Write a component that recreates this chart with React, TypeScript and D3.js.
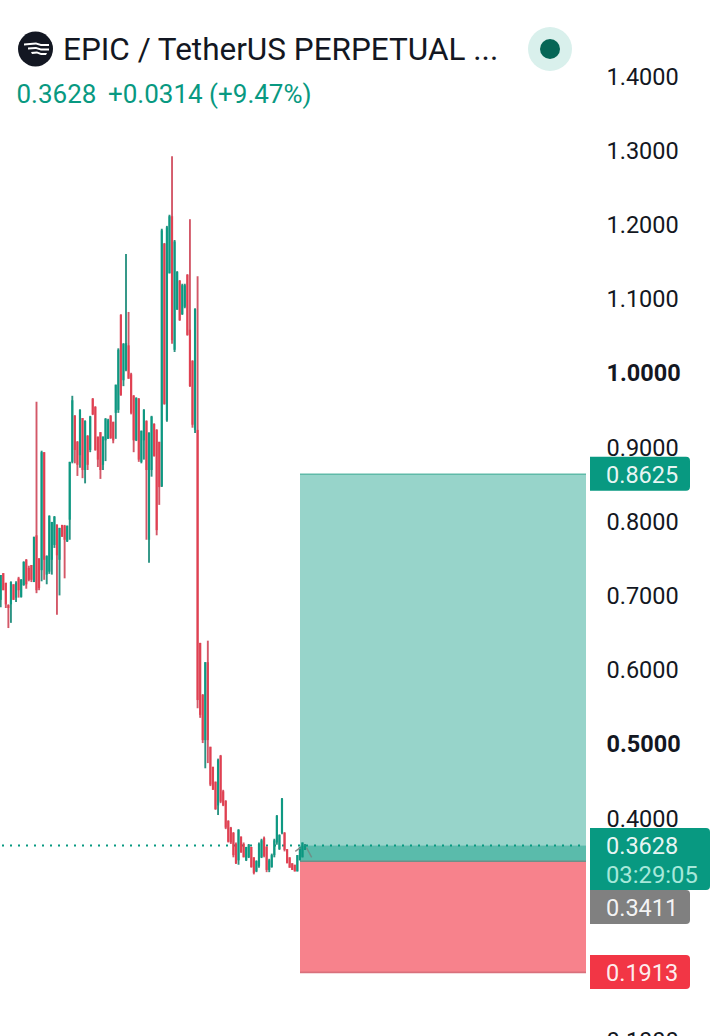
import React, { useEffect, useRef } from 'react'

import * as d3 from 'd3'

const opens = [
  0.694, 0.73, 0.717, 0.687, 0.688, 0.715, 0.697, 0.723, 0.698, 0.714,
  0.748, 0.737, 0.741, 0.718, 0.781, 0.75, 0.734, 0.893, 0.728, 0.732,
  0.748, 0.768, 0.795, 0.748, 0.795, 0.794, 0.773, 0.802, 0.88, 0.942,
  0.907, 0.889, 0.939, 0.869, 0.915, 0.896, 0.965, 0.954, 0.914, 0.92,
  0.876, 0.909, 0.911, 0.942, 0.934, 0.946, 0.95, 1.078, 0.99, 1.004,
  1.037, 0.998, 0.969, 0.909, 0.965, 0.88, 0.909, 0.935, 0.775, 0.869,
  0.931, 0.923, 0.907, 0.847, 1.174, 0.936, 1.134, 1.211, 1.031, 1.085,
  1.124, 1.079, 1.089, 1.132, 1.058, 1.016, 0.923, 0.923, 0.636, 0.566,
  0.505, 0.61, 0.496, 0.469, 0.449, 0.417, 0.484, 0.436, 0.423, 0.396,
  0.387, 0.38, 0.365, 0.343, 0.375, 0.365, 0.343, 0.347, 0.361, 0.347,
  0.328, 0.335, 0.347, 0.373, 0.361, 0.33, 0.334, 0.35, 0.367, 0.358,
  0.38, 0.38, 0.358, 0.347, 0.339, 0.337, 0.328, 0.343, 0.347, 0.357,
]
const closes = [
  0.7275, 0.707, 0.688, 0.683, 0.718, 0.694, 0.717, 0.707, 0.721, 0.745,
  0.715, 0.721, 0.721, 0.779, 0.707, 0.71, 0.893, 0.748, 0.753, 0.807,
  0.799, 0.806, 0.754, 0.791, 0.779, 0.775, 0.794, 0.88, 0.963, 0.896,
  0.876, 0.95, 0.869, 0.935, 0.876, 0.941, 0.944, 0.896, 0.883, 0.869,
  0.914, 0.938, 0.936, 0.912, 0.909, 0.984, 1.031, 0.97, 1.039, 1.04,
  0.992, 0.946, 0.909, 0.966, 0.883, 0.922, 0.95, 0.869, 0.919, 0.941,
  0.888, 0.788, 0.846, 1.192, 0.958, 1.196, 1.211, 1.044, 1.177, 1.136,
  1.071, 1.118, 1.118, 1.051, 0.982, 0.93, 1.086, 0.559, 0.539, 0.505,
  0.61, 0.505, 0.445, 0.438, 0.412, 0.478, 0.422, 0.417, 0.387, 0.368,
  0.367, 0.35, 0.339, 0.384, 0.354, 0.347, 0.361, 0.364, 0.334, 0.326,
  0.342, 0.365, 0.37, 0.349, 0.33, 0.343, 0.35, 0.37, 0.403, 0.377,
  0.426, 0.357, 0.339, 0.333, 0.33, 0.328, 0.35, 0.361, 0.367, 0.3628,
]
const highs = [
  0.7275, 0.73, 0.717, 0.688, 0.719, 0.715, 0.719, 0.725, 0.722, 0.746,
  0.749, 0.74, 0.741, 0.779, 0.961, 0.75, 0.895, 0.893, 0.754, 0.808,
  0.799, 0.807, 0.796, 0.791, 0.795, 0.795, 0.794, 0.88, 0.969, 0.943,
  0.908, 0.951, 0.939, 0.936, 0.916, 0.942, 0.966, 0.955, 0.914, 0.92,
  0.914, 0.939, 0.938, 0.943, 0.934, 0.984, 1.033, 1.079, 1.04, 1.16,
  1.082, 1.0, 0.97, 0.967, 0.966, 0.922, 0.951, 0.936, 0.92, 0.942,
  0.932, 0.924, 0.907, 1.194, 1.175, 1.198, 1.213, 1.292, 1.179, 1.137,
  1.125, 1.12, 1.12, 1.133, 1.207, 1.017, 1.087, 1.13, 0.636, 0.567,
  0.61, 0.639, 0.496, 0.469, 0.449, 0.48, 0.485, 0.438, 0.424, 0.397,
  0.388, 0.381, 0.367, 0.385, 0.375, 0.367, 0.361, 0.365, 0.361, 0.347,
  0.343, 0.367, 0.372, 0.375, 0.362, 0.345, 0.352, 0.372, 0.404, 0.378,
  0.427, 0.381, 0.358, 0.347, 0.339, 0.337, 0.35, 0.361, 0.367, 0.365,
]
const lows = [
  0.684, 0.707, 0.683, 0.656, 0.663, 0.694, 0.691, 0.697, 0.697, 0.713,
  0.709, 0.719, 0.718, 0.718, 0.703, 0.707, 0.719, 0.721, 0.715, 0.729,
  0.728, 0.764, 0.674, 0.7, 0.779, 0.723, 0.772, 0.775, 0.878, 0.878,
  0.861, 0.872, 0.858, 0.851, 0.869, 0.893, 0.943, 0.895, 0.873, 0.857,
  0.869, 0.881, 0.911, 0.911, 0.905, 0.911, 0.946, 0.969, 0.982, 1.002,
  0.992, 0.944, 0.893, 0.908, 0.88, 0.878, 0.883, 0.775, 0.744, 0.86,
  0.887, 0.781, 0.822, 0.846, 0.957, 0.934, 1.134, 1.039, 1.028, 1.085,
  1.07, 1.078, 1.087, 1.05, 0.981, 0.926, 0.919, 0.548, 0.535, 0.501,
  0.467, 0.474, 0.443, 0.438, 0.411, 0.404, 0.42, 0.416, 0.385, 0.367,
  0.365, 0.347, 0.338, 0.337, 0.353, 0.347, 0.342, 0.346, 0.333, 0.324,
  0.327, 0.333, 0.346, 0.347, 0.327, 0.327, 0.333, 0.347, 0.364, 0.357,
  0.378, 0.355, 0.339, 0.333, 0.33, 0.328, 0.328, 0.343, 0.347, 0.357,
]

const priceTicks = [1.4, 1.3, 1.2, 1.1, 1.0, 0.9, 0.8, 0.7, 0.6, 0.5, 0.4, 0.1]
const boldTicks = [1.0, 0.5]

const targetPrice = 0.8625
const entryPrice = 0.3411
const stopPrice = 0.1913
const lastPrice = 0.3628

// little grey marker that sits around the entry of the position
const markerBars = [115.2, 117.2]
const markerPrices = [0.355, 0.36]
const markerBars2 = [119.6, 121.6]
const markerPrices2 = [0.36, 0.347]

const title = 'EPIC / TetherUS PERPETUAL ...'
const quote = ['0.3628', '+0.0314 (+9.47%)']
const countdown = '03:29:05'

const GREEN = '#089981'
const RED = '#F23645'

export default function App() {
  const svgRef = useRef<SVGSVGElement>(null)

  useEffect(() => {
    if (!svgRef.current) return

    d3.select(svgRef.current).selectAll('*').remove()
    const svg = d3.select(svgRef.current)

    const xScale = d3.scaleLinear().domain([0, 119]).range([0.7, 305])
    const yScale = d3.scaleLinear().domain([1.4, 0.1]).range([76, 1040.6])

    const boxLeft = 300
    const boxRight = 586

    // position box goes under the candles
    svg
      .append('rect')
      .attr('x', boxLeft)
      .attr('y', yScale(targetPrice))
      .attr('width', boxRight - boxLeft)
      .attr('height', yScale(entryPrice) - yScale(targetPrice))
      .attr('fill', GREEN)
      .attr('fill-opacity', 0.42)

    svg
      .append('rect')
      .attr('x', boxLeft)
      .attr('y', yScale(entryPrice))
      .attr('width', boxRight - boxLeft)
      .attr('height', yScale(stopPrice) - yScale(entryPrice))
      .attr('fill', RED)
      .attr('fill-opacity', 0.62)

    // darker band between entry and last price
    svg
      .append('rect')
      .attr('x', boxLeft)
      .attr('y', yScale(lastPrice))
      .attr('width', boxRight - boxLeft)
      .attr('height', yScale(entryPrice) - yScale(lastPrice))
      .attr('fill', GREEN)
      .attr('fill-opacity', 0.42)

    svg
      .append('line')
      .attr('x1', boxLeft)
      .attr('x2', boxRight)
      .attr('y1', yScale(targetPrice) - 0.5)
      .attr('y2', yScale(targetPrice) - 0.5)
      .attr('stroke', '#5fbaa8')
      .attr('stroke-width', 1.5)

    svg
      .append('line')
      .attr('x1', boxLeft)
      .attr('x2', boxRight)
      .attr('y1', yScale(entryPrice) - 0.5)
      .attr('y2', yScale(entryPrice) - 0.5)
      .attr('stroke', '#6f8f88')
      .attr('stroke-width', 1.5)

    svg
      .append('line')
      .attr('x1', boxLeft)
      .attr('x2', boxRight)
      .attr('y1', yScale(stopPrice) - 0.5)
      .attr('y2', yScale(stopPrice) - 0.5)
      .attr('stroke', '#d9707c')
      .attr('stroke-width', 1.8)

    // last price dotted line
    svg
      .append('line')
      .attr('x1', 2)
      .attr('x2', boxRight)
      .attr('y1', yScale(lastPrice))
      .attr('y2', yScale(lastPrice))
      .attr('stroke', GREEN)
      .attr('stroke-width', 2)
      .attr('stroke-dasharray', '2 6')

    const bars = d3.range(opens.length)
    const isUp = (i: number) => closes[i] >= opens[i]

    // wicks, a bit muted so overlapping neighbours read like the blurred original
    svg
      .append('g')
      .selectAll('line')
      .data(bars)
      .join('line')
      .attr('x1', (i) => xScale(i))
      .attr('x2', (i) => xScale(i))
      .attr('y1', (i) => yScale(highs[i]))
      .attr('y2', (i) => yScale(lows[i]))
      .attr('stroke', (i) => (isUp(i) ? '#1a8a78' : '#cf4a5b'))
      .attr('stroke-opacity', 0.92)
      .attr('stroke-width', 1.9)

    // bodies
    svg
      .append('g')
      .selectAll('rect')
      .data(bars)
      .join('rect')
      .attr('x', (i) => xScale(i) - 1.1)
      .attr('width', 2.2)
      .attr('y', (i) => yScale(Math.max(opens[i], closes[i])))
      .attr('height', (i) => Math.abs(yScale(opens[i]) - yScale(closes[i])))
      .attr('fill', (i) => (isUp(i) ? GREEN : '#e23c4e'))
      .attr('fill-opacity', 0.85)

    const markerLine = d3
      .line<number>()
      .x((d) => xScale(d))
      .y((_, i) => yScale(markerPrices[i]))
    svg
      .append('path')
      .attr('d', markerLine(markerBars))
      .attr('fill', 'none')
      .attr('stroke', '#8a8a8a')
      .attr('stroke-width', 1.4)
    markerLine.y((_, i) => yScale(markerPrices2[i]))
    svg
      .append('path')
      .attr('d', markerLine(markerBars2))
      .attr('fill', 'none')
      .attr('stroke', '#6f8f88')
      .attr('stroke-width', 1.4)

    // price axis
    const axis = svg
      .append('g')
      .attr('transform', 'translate(606.5,0.5)')
      .call(
        d3
          .axisRight(yScale)
          .tickValues(priceTicks)
          .tickFormat((d) => (+d).toFixed(4))
          .tickSize(0)
          .tickPadding(0),
      )
    axis.select('.domain').remove()
    axis
      .selectAll<SVGTextElement, number>('text')
      .attr('font-family', 'Roboto')
      .style('font-size', '23.5px')
      .style('fill', '#131722')
      .style('font-weight', (d) => (boldTicks.includes(d) ? 700 : 400))

    // price badges
    const badge = (
      price: number,
      top: number,
      w: number,
      h: number,
      fill: string,
    ) => {
      const r = 4
      const left = 590
      svg
        .append('path')
        .attr(
          'd',
          `M${left},${top}H${left + w - r}a${r},${r} 0 0 1 ${r},${r}V${top + h - r}a${r},${r} 0 0 1 ${-r},${r}H${left}Z`,
        )
        .attr('fill', fill)
      svg
        .append('text')
        .attr('x', 606)
        .attr('y', top + 18)
        .attr('dy', '0.36em')
        .attr('font-family', 'Roboto')
        .attr('font-size', 23.5)
        .attr('fill', '#ffffff')
        .attr('fill-opacity', 0.92)
        .text(price.toFixed(4))
    }

    badge(targetPrice, yScale(targetPrice) - 18, 100, 34, GREEN)
    badge(lastPrice, 828, 120, 62, GREEN)
    badge(entryPrice, 890, 100, 34, '#808080')
    badge(stopPrice, 955, 100, 34, RED)

    svg
      .append('text')
      .attr('x', 606)
      .attr('y', 874)
      .attr('dy', '0.36em')
      .attr('font-family', 'Roboto')
      .attr('font-size', 23.8)
      .attr('fill', '#a6e8da')
      .text(countdown)

    // header
    svg
      .append('circle')
      .attr('cx', 35.5)
      .attr('cy', 49)
      .attr('r', 17.5)
      .attr('fill', '#131722')
    svg
      .append('path')
      .attr(
        'd',
        'M24,43.5L36,42.5L41,44L49,44L49,46L41,46L36,44.5L24,45.5Z M28,47.5L36,47L41,48.5L49,48.5L49,50.5L41,50.5L36,49L28,49.5Z M31,52L37,51.5L41,53L47,53L46,55L41,55L37,53.5L32,54Z',
      )
      .attr('fill', '#ffffff')

    svg
      .append('text')
      .attr('x', 63)
      .attr('y', 60)
      .attr('font-family', 'Roboto')
      .attr('font-size', 31.5)
      .attr('fill', '#131722')
      .text(title)

    svg
      .append('text')
      .attr('x', 16.5)
      .attr('y', 103)
      .attr('font-family', 'Roboto')
      .attr('font-size', 26)
      .attr('fill', GREEN)
      .text(quote[0])

    svg
      .append('text')
      .attr('x', 108)
      .attr('y', 103)
      .attr('font-family', 'Roboto')
      .attr('font-size', 26)
      .attr('fill', GREEN)
      .text(quote[1])

    // market status dot
    svg
      .append('circle')
      .attr('cx', 550)
      .attr('cy', 49)
      .attr('r', 22)
      .attr('fill', '#d9f0ec')
    svg
      .append('circle')
      .attr('cx', 550)
      .attr('cy', 49)
      .attr('r', 10)
      .attr('fill', '#056656')
  }, [])

  return (
    <svg
      ref={svgRef}
      width={719}
      height={1036}
      style={{ position: 'absolute', top: 0, left: 0, background: '#ffffff' }}
    />
  )
}
